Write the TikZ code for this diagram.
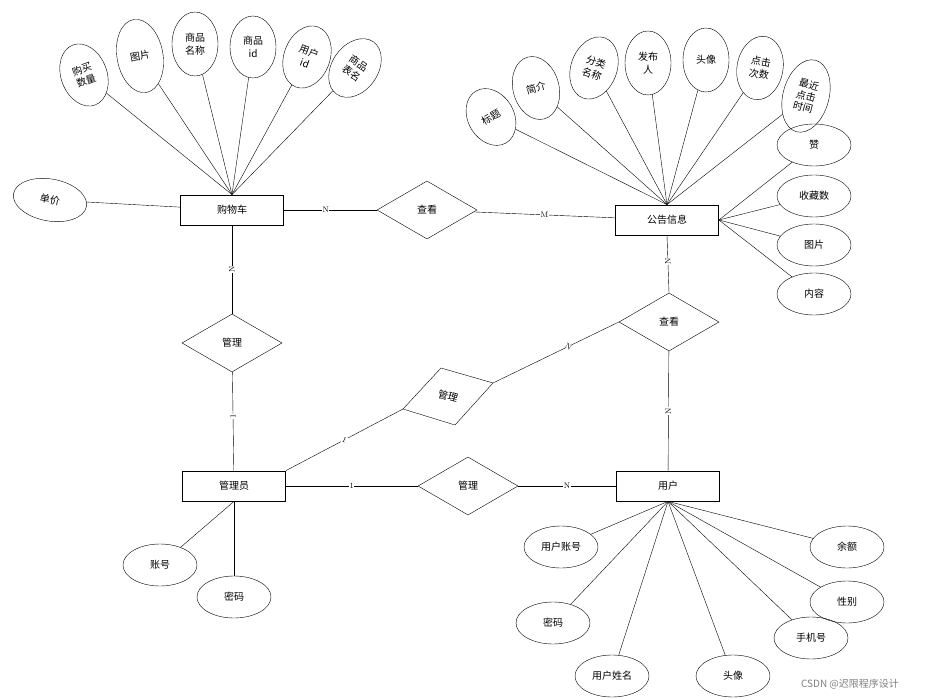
\documentclass[tikz,border=0pt]{standalone}
\usepackage{fontspec}
\newfontfamily\cjk{Noto Sans CJK SC}
\usetikzlibrary{shapes.geometric}
\begin{document}
\begin{tikzpicture}[x=1pt,y=-1pt,font=\cjk\fontsize{10}{12}\selectfont,
 ent/.style={draw,thick,minimum width=103pt,minimum height=30pt,inner sep=0pt},
 att/.style={draw,ellipse,minimum width=74pt,minimum height=42pt,inner sep=0pt,align=center},
 vat/.style={draw,ellipse,minimum width=46pt,minimum height=64pt,inner sep=0pt,align=center,font=\cjk\fontsize{10}{12.5}\selectfont},
 rel/.style={draw,diamond,minimum width=100pt,minimum height=58pt,inner sep=0pt,aspect=1.7},
 lab/.style={fill=white,inner sep=0.5pt,font=\rmfamily\fontsize{8}{9}\selectfont}]
\useasboundingbox (0,0) rectangle (939,700);
% cart
\node[ent] (cart) at (232,210) {购物车};
\node[att,rotate=-10] (dj) at (50,200) {单价};
\node[vat,rotate=20] (gmsl) at (84,75) {购买\\数量};
\node[vat,minimum height=74pt,rotate=10] (tp1) at (140,56) {图片};
\node[vat] (spmc) at (195,44) {商品\\名称};
\node[vat,minimum height=62pt] (spid) at (253,47) {商品\\id};
\node[vat,rotate=-20] (yhid) at (307,57) {用户\\id};
\node[vat,rotate=-35] (spbm) at (355,68) {商品\\表名};
\foreach \a in {gmsl,tp1,spmc,spid,yhid,spbm} \draw (\a) -- (cart.north);
\draw (dj) -- (cart);
% notice
\node[ent] (gg) at (667,220) {公告信息};
\node[vat,minimum height=60pt,rotate=30] (bt) at (491,117) {标题};
\node[vat,rotate=15] (jj) at (536,88) {简介};
\node[vat,rotate=-20] (flmc) at (594,68) {分类\\名称};
\node[vat] (fbr) at (648,63) {发布\\人};
\node[vat] (tx1) at (706,60) {头像};
\node[vat,rotate=-10] (djcs) at (760,68) {点击\\次数};
\node[vat,minimum height=74pt,rotate=-15,font=\cjk\fontsize{10}{11.5}\selectfont] (zj) at (806,96) {最近\\点击\\时间};
\foreach \a in {bt,jj,flmc,fbr,tx1,djcs,zj} \draw (\a) -- (gg.north);
\node[att] (zan) at (814,145) {赞};
\node[att] (scs) at (814,196) {收藏数};
\node[att] (tp2) at (814,245) {图片};
\node[att] (nr) at (814,294) {内容};
\foreach \a in {zan,scs,tp2,nr} \draw (\a) -- (gg.east);
% relations
\node[rel] (ck1) at (427,210) {查看};
\draw (cart) -- node[lab,pos=0.45]{N} (ck1);
\draw (ck1) -- node[lab,pos=0.5]{M} (gg);
\node[rel] (gl1) at (232,343) {管理};
\node[rel] (ck2) at (669,322) {查看};
\node[ent] (gly) at (234,486) {管理员};
\node[ent] (yh) at (668,486) {用户};
\node[rel] (gl3) at (468,486) {管理};
\draw (cart) -- node[lab,rotate=90]{N} (gl1);
\draw (gl1) -- node[lab,rotate=90,pos=0.45]{1} (gly);
\draw (ck2.north) -- node[lab,rotate=90,pos=0.55]{N} (gg.south);
\draw (ck2) -- node[lab,rotate=90,pos=0.5]{N} (yh);
\draw (gly) -- node[lab]{1} (gl3);
\draw (gl3) -- node[lab]{N} (yh);
% skewed diamond
\coordinate (g2l) at (403,409);
\coordinate (g2t) at (441,368);
\coordinate (g2r) at (493,383);
\coordinate (g2b) at (455,425);
\draw (g2l) -- (g2t) -- (g2r) -- (g2b) -- cycle;
\node[rotate=-15] (gl2) at (448,396) {管理};
\draw (gly.north east) -- node[lab,rotate=-25]{1} (g2l);
\draw (g2r) -- node[lab,rotate=-30,pos=0.6]{N} (ck2.west);
% admin attrs
\node[att] (zh) at (160,565) {账号};
\node[att] (mm1) at (234,597) {密码};
\draw (zh) -- (gly.south);
\draw (mm1) -- (gly.south);
% user attrs
\node[att] (yhzh) at (561,547) {用户账号};
\node[att] (mm2) at (553,623) {密码};
\node[att] (yhxm) at (612,676) {用户姓名};
\node[att] (tx2) at (733,676) {头像};
\node[att] (sjh) at (811,638) {手机号};
\node[att] (xb) at (847,602) {性别};
\node[att] (ye) at (847,547) {余额};
\foreach \a in {yhzh,mm2,yhxm,tx2,sjh,xb,ye} \draw (\a) -- (yh.south);
\node[text=gray,font=\cjk\fontsize{10}{12}\selectfont] (csdn) at (850,684) {CSDN @迟限程序设计};
\end{tikzpicture}
\end{document}
